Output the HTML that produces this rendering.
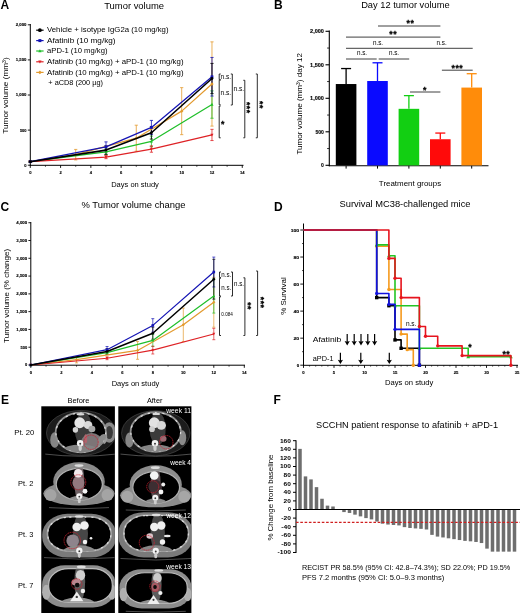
<!DOCTYPE html>
<html><head><meta charset="utf-8"><title>Figure</title>
<style>
html,body{margin:0;padding:0;background:#fff;}
body{width:520px;height:613px;overflow:hidden;}
svg{display:block;font-family:'Liberation Sans', 'DejaVu Sans', sans-serif;}
</style></head><body>
<svg width="520" height="613" viewBox="0 0 520 613">
<rect width="520" height="613" fill="#fff"/>
<g id="panelA">
<text x="0.50" y="9.30" font-size="12" text-anchor="start" font-weight="bold">A</text>
<text x="134.10" y="8.70" font-size="9" text-anchor="middle" textLength="59.80" lengthAdjust="spacingAndGlyphs">Tumor volume</text>
<line x1="30.30" y1="24.00" x2="30.30" y2="165.80" stroke="#000" stroke-width="1"/>
<line x1="29.80" y1="165.30" x2="243.50" y2="165.30" stroke="#000" stroke-width="1"/>
<line x1="27.80" y1="165.20" x2="30.30" y2="165.20" stroke="#000" stroke-width="0.9"/>
<text x="26.50" y="166.60" font-size="4" text-anchor="end" font-weight="bold" stroke="#000" stroke-width="0.12">0</text>
<line x1="27.80" y1="130.10" x2="30.30" y2="130.10" stroke="#000" stroke-width="0.9"/>
<text x="26.50" y="131.50" font-size="4" text-anchor="end" font-weight="bold" textLength="6.60" lengthAdjust="spacingAndGlyphs" stroke="#000" stroke-width="0.12">500</text>
<line x1="27.80" y1="95.00" x2="30.30" y2="95.00" stroke="#000" stroke-width="0.9"/>
<text x="26.50" y="96.40" font-size="4" text-anchor="end" font-weight="bold" textLength="10.70" lengthAdjust="spacingAndGlyphs" stroke="#000" stroke-width="0.12">1,000</text>
<line x1="27.80" y1="59.90" x2="30.30" y2="59.90" stroke="#000" stroke-width="0.9"/>
<text x="26.50" y="61.30" font-size="4" text-anchor="end" font-weight="bold" textLength="10.70" lengthAdjust="spacingAndGlyphs" stroke="#000" stroke-width="0.12">1,500</text>
<line x1="27.80" y1="24.80" x2="30.30" y2="24.80" stroke="#000" stroke-width="0.9"/>
<text x="26.50" y="26.20" font-size="4" text-anchor="end" font-weight="bold" textLength="10.70" lengthAdjust="spacingAndGlyphs" stroke="#000" stroke-width="0.12">2,000</text>
<line x1="30.30" y1="165.30" x2="30.30" y2="167.90" stroke="#000" stroke-width="0.9"/>
<text x="30.30" y="174.20" font-size="4.1" text-anchor="middle" font-weight="bold" stroke="#000" stroke-width="0.12">0</text>
<line x1="45.44" y1="165.30" x2="45.44" y2="166.80" stroke="#000" stroke-width="0.7"/>
<line x1="60.58" y1="165.30" x2="60.58" y2="167.90" stroke="#000" stroke-width="0.9"/>
<text x="60.58" y="174.20" font-size="4.1" text-anchor="middle" font-weight="bold" stroke="#000" stroke-width="0.12">2</text>
<line x1="75.72" y1="165.30" x2="75.72" y2="166.80" stroke="#000" stroke-width="0.7"/>
<line x1="90.86" y1="165.30" x2="90.86" y2="167.90" stroke="#000" stroke-width="0.9"/>
<text x="90.86" y="174.20" font-size="4.1" text-anchor="middle" font-weight="bold" stroke="#000" stroke-width="0.12">4</text>
<line x1="106.00" y1="165.30" x2="106.00" y2="166.80" stroke="#000" stroke-width="0.7"/>
<line x1="121.14" y1="165.30" x2="121.14" y2="167.90" stroke="#000" stroke-width="0.9"/>
<text x="121.14" y="174.20" font-size="4.1" text-anchor="middle" font-weight="bold" stroke="#000" stroke-width="0.12">6</text>
<line x1="136.28" y1="165.30" x2="136.28" y2="166.80" stroke="#000" stroke-width="0.7"/>
<line x1="151.42" y1="165.30" x2="151.42" y2="167.90" stroke="#000" stroke-width="0.9"/>
<text x="151.42" y="174.20" font-size="4.1" text-anchor="middle" font-weight="bold" stroke="#000" stroke-width="0.12">8</text>
<line x1="166.56" y1="165.30" x2="166.56" y2="166.80" stroke="#000" stroke-width="0.7"/>
<line x1="181.70" y1="165.30" x2="181.70" y2="167.90" stroke="#000" stroke-width="0.9"/>
<text x="181.70" y="174.20" font-size="4.1" text-anchor="middle" font-weight="bold" stroke="#000" stroke-width="0.12">10</text>
<line x1="196.84" y1="165.30" x2="196.84" y2="166.80" stroke="#000" stroke-width="0.7"/>
<line x1="211.98" y1="165.30" x2="211.98" y2="167.90" stroke="#000" stroke-width="0.9"/>
<text x="211.98" y="174.20" font-size="4.1" text-anchor="middle" font-weight="bold" stroke="#000" stroke-width="0.12">12</text>
<line x1="227.12" y1="165.30" x2="227.12" y2="166.80" stroke="#000" stroke-width="0.7"/>
<line x1="242.26" y1="165.30" x2="242.26" y2="167.90" stroke="#000" stroke-width="0.9"/>
<text x="242.26" y="174.20" font-size="4.1" text-anchor="middle" font-weight="bold" stroke="#000" stroke-width="0.12">14</text>
<text x="8.30" y="95.50" font-size="8" text-anchor="middle" transform="rotate(-90 8.30 95.50)" textLength="76.4" lengthAdjust="spacingAndGlyphs">Tumor volume (mm<tspan font-size="5" dy="-2.6">3</tspan><tspan dy="2.6">)</tspan></text>
<text x="135.00" y="186.50" font-size="7.6" text-anchor="middle" textLength="47.70" lengthAdjust="spacingAndGlyphs">Days on study</text>
<line x1="30.30" y1="161.13" x2="30.30" y2="162.25" stroke="#e39a2e" stroke-width="0.8"/>
<line x1="28.70" y1="161.13" x2="31.90" y2="161.13" stroke="#e39a2e" stroke-width="0.8"/>
<line x1="28.70" y1="162.25" x2="31.90" y2="162.25" stroke="#e39a2e" stroke-width="0.8"/>
<line x1="75.72" y1="149.41" x2="75.72" y2="159.94" stroke="#e39a2e" stroke-width="0.8"/>
<line x1="74.12" y1="149.41" x2="77.32" y2="149.41" stroke="#e39a2e" stroke-width="0.8"/>
<line x1="74.12" y1="159.94" x2="77.32" y2="159.94" stroke="#e39a2e" stroke-width="0.8"/>
<line x1="136.28" y1="125.19" x2="136.28" y2="151.16" stroke="#e39a2e" stroke-width="0.8"/>
<line x1="134.68" y1="125.19" x2="137.88" y2="125.19" stroke="#e39a2e" stroke-width="0.8"/>
<line x1="134.68" y1="151.16" x2="137.88" y2="151.16" stroke="#e39a2e" stroke-width="0.8"/>
<line x1="181.70" y1="87.63" x2="181.70" y2="134.66" stroke="#e39a2e" stroke-width="0.8"/>
<line x1="180.10" y1="87.63" x2="183.30" y2="87.63" stroke="#e39a2e" stroke-width="0.8"/>
<line x1="180.10" y1="134.66" x2="183.30" y2="134.66" stroke="#e39a2e" stroke-width="0.8"/>
<line x1="211.98" y1="41.86" x2="211.98" y2="126.10" stroke="#e39a2e" stroke-width="0.8"/>
<line x1="210.38" y1="41.86" x2="213.58" y2="41.86" stroke="#e39a2e" stroke-width="0.8"/>
<line x1="210.38" y1="126.10" x2="213.58" y2="126.10" stroke="#e39a2e" stroke-width="0.8"/>
<line x1="30.30" y1="161.13" x2="30.30" y2="162.25" stroke="#1fbf2a" stroke-width="0.8"/>
<line x1="28.70" y1="161.13" x2="31.90" y2="161.13" stroke="#1fbf2a" stroke-width="0.8"/>
<line x1="28.70" y1="162.25" x2="31.90" y2="162.25" stroke="#1fbf2a" stroke-width="0.8"/>
<line x1="106.00" y1="149.05" x2="106.00" y2="154.67" stroke="#1fbf2a" stroke-width="0.8"/>
<line x1="104.40" y1="149.05" x2="107.60" y2="149.05" stroke="#1fbf2a" stroke-width="0.8"/>
<line x1="104.40" y1="154.67" x2="107.60" y2="154.67" stroke="#1fbf2a" stroke-width="0.8"/>
<line x1="151.42" y1="136.07" x2="151.42" y2="146.60" stroke="#1fbf2a" stroke-width="0.8"/>
<line x1="149.82" y1="136.07" x2="153.02" y2="136.07" stroke="#1fbf2a" stroke-width="0.8"/>
<line x1="149.82" y1="146.60" x2="153.02" y2="146.60" stroke="#1fbf2a" stroke-width="0.8"/>
<line x1="211.98" y1="90.86" x2="211.98" y2="118.24" stroke="#1fbf2a" stroke-width="0.8"/>
<line x1="210.38" y1="90.86" x2="213.58" y2="90.86" stroke="#1fbf2a" stroke-width="0.8"/>
<line x1="210.38" y1="118.24" x2="213.58" y2="118.24" stroke="#1fbf2a" stroke-width="0.8"/>
<line x1="30.30" y1="161.13" x2="30.30" y2="162.25" stroke="#de2226" stroke-width="0.8"/>
<line x1="28.70" y1="161.13" x2="31.90" y2="161.13" stroke="#de2226" stroke-width="0.8"/>
<line x1="28.70" y1="162.25" x2="31.90" y2="162.25" stroke="#de2226" stroke-width="0.8"/>
<line x1="106.00" y1="155.58" x2="106.00" y2="158.67" stroke="#de2226" stroke-width="0.8"/>
<line x1="104.40" y1="155.58" x2="107.60" y2="155.58" stroke="#de2226" stroke-width="0.8"/>
<line x1="104.40" y1="158.67" x2="107.60" y2="158.67" stroke="#de2226" stroke-width="0.8"/>
<line x1="151.42" y1="145.89" x2="151.42" y2="152.21" stroke="#de2226" stroke-width="0.8"/>
<line x1="149.82" y1="145.89" x2="153.02" y2="145.89" stroke="#de2226" stroke-width="0.8"/>
<line x1="149.82" y1="152.21" x2="153.02" y2="152.21" stroke="#de2226" stroke-width="0.8"/>
<line x1="211.98" y1="129.33" x2="211.98" y2="140.56" stroke="#de2226" stroke-width="0.8"/>
<line x1="210.38" y1="129.33" x2="213.58" y2="129.33" stroke="#de2226" stroke-width="0.8"/>
<line x1="210.38" y1="140.56" x2="213.58" y2="140.56" stroke="#de2226" stroke-width="0.8"/>
<line x1="30.30" y1="161.13" x2="30.30" y2="162.25" stroke="#1414b4" stroke-width="0.8"/>
<line x1="28.70" y1="161.13" x2="31.90" y2="161.13" stroke="#1414b4" stroke-width="0.8"/>
<line x1="28.70" y1="162.25" x2="31.90" y2="162.25" stroke="#1414b4" stroke-width="0.8"/>
<line x1="106.00" y1="141.89" x2="106.00" y2="151.72" stroke="#1414b4" stroke-width="0.8"/>
<line x1="104.40" y1="141.89" x2="107.60" y2="141.89" stroke="#1414b4" stroke-width="0.8"/>
<line x1="104.40" y1="151.72" x2="107.60" y2="151.72" stroke="#1414b4" stroke-width="0.8"/>
<line x1="151.42" y1="120.41" x2="151.42" y2="134.45" stroke="#1414b4" stroke-width="0.8"/>
<line x1="149.82" y1="120.41" x2="153.02" y2="120.41" stroke="#1414b4" stroke-width="0.8"/>
<line x1="149.82" y1="134.45" x2="153.02" y2="134.45" stroke="#1414b4" stroke-width="0.8"/>
<line x1="211.98" y1="57.44" x2="211.98" y2="96.05" stroke="#1414b4" stroke-width="0.8"/>
<line x1="210.38" y1="57.44" x2="213.58" y2="57.44" stroke="#1414b4" stroke-width="0.8"/>
<line x1="210.38" y1="96.05" x2="213.58" y2="96.05" stroke="#1414b4" stroke-width="0.8"/>
<line x1="30.30" y1="161.13" x2="30.30" y2="162.25" stroke="#000000" stroke-width="0.8"/>
<line x1="28.70" y1="161.13" x2="31.90" y2="161.13" stroke="#000000" stroke-width="0.8"/>
<line x1="28.70" y1="162.25" x2="31.90" y2="162.25" stroke="#000000" stroke-width="0.8"/>
<line x1="106.00" y1="145.89" x2="106.00" y2="154.32" stroke="#000000" stroke-width="0.8"/>
<line x1="104.40" y1="145.89" x2="107.60" y2="145.89" stroke="#000000" stroke-width="0.8"/>
<line x1="104.40" y1="154.32" x2="107.60" y2="154.32" stroke="#000000" stroke-width="0.8"/>
<line x1="151.42" y1="126.45" x2="151.42" y2="139.09" stroke="#000000" stroke-width="0.8"/>
<line x1="149.82" y1="126.45" x2="153.02" y2="126.45" stroke="#000000" stroke-width="0.8"/>
<line x1="149.82" y1="139.09" x2="153.02" y2="139.09" stroke="#000000" stroke-width="0.8"/>
<line x1="211.98" y1="63.41" x2="211.98" y2="93.60" stroke="#000000" stroke-width="0.8"/>
<line x1="210.38" y1="63.41" x2="213.58" y2="63.41" stroke="#000000" stroke-width="0.8"/>
<line x1="210.38" y1="93.60" x2="213.58" y2="93.60" stroke="#000000" stroke-width="0.8"/>
<polyline points="30.30,161.69 75.72,154.67 136.28,138.17 181.70,111.15 211.98,83.98" fill="none" stroke="#e39a2e" stroke-width="1.25" stroke-linejoin="round"/>
<polygon points="30.30,160.01 28.62,161.69 30.30,163.37 31.98,161.69" fill="#e39a2e"/>
<polygon points="75.72,152.99 74.04,154.67 75.72,156.35 77.40,154.67" fill="#e39a2e"/>
<polygon points="136.28,136.49 134.60,138.17 136.28,139.85 137.96,138.17" fill="#e39a2e"/>
<polygon points="181.70,109.47 180.02,111.15 181.70,112.83 183.38,111.15" fill="#e39a2e"/>
<polygon points="211.98,82.30 210.30,83.98 211.98,85.66 213.66,83.98" fill="#e39a2e"/>
<polyline points="30.30,161.69 106.00,151.86 151.42,141.33 211.98,104.55" fill="none" stroke="#1fbf2a" stroke-width="1.25" stroke-linejoin="round"/>
<polygon points="30.30,160.01 28.76,162.95 31.84,162.95" fill="#1fbf2a"/>
<polygon points="106.00,150.18 104.46,153.12 107.54,153.12" fill="#1fbf2a"/>
<polygon points="151.42,139.65 149.88,142.59 152.96,142.59" fill="#1fbf2a"/>
<polygon points="211.98,102.87 210.44,105.81 213.52,105.81" fill="#1fbf2a"/>
<polyline points="30.30,161.69 106.00,157.13 151.42,149.05 211.98,134.94" fill="none" stroke="#de2226" stroke-width="1.25" stroke-linejoin="round"/>
<polygon points="30.30,163.37 28.76,160.43 31.84,160.43" fill="#de2226"/>
<polygon points="106.00,158.81 104.46,155.87 107.54,155.87" fill="#de2226"/>
<polygon points="151.42,150.73 149.88,147.79 152.96,147.79" fill="#de2226"/>
<polygon points="211.98,136.62 210.44,133.68 213.52,133.68" fill="#de2226"/>
<polyline points="30.30,161.69 106.00,146.81 151.42,127.43 211.98,76.75" fill="none" stroke="#1414b4" stroke-width="1.25" stroke-linejoin="round"/>
<rect x="28.90" y="160.29" width="2.80" height="2.80" fill="#1414b4"/>
<rect x="104.60" y="145.41" width="2.80" height="2.80" fill="#1414b4"/>
<rect x="150.02" y="126.03" width="2.80" height="2.80" fill="#1414b4"/>
<rect x="210.58" y="75.35" width="2.80" height="2.80" fill="#1414b4"/>
<polyline points="30.30,161.69 106.00,150.11 151.42,132.77 211.98,78.50" fill="none" stroke="#000000" stroke-width="1.6" stroke-linejoin="round"/>
<circle cx="30.30" cy="161.69" r="1.4" fill="#000000"/>
<circle cx="106.00" cy="150.11" r="1.4" fill="#000000"/>
<circle cx="151.42" cy="132.77" r="1.4" fill="#000000"/>
<circle cx="211.98" cy="78.50" r="1.4" fill="#000000"/>
<line x1="36.20" y1="30.20" x2="43.60" y2="30.20" stroke="#000000" stroke-width="1.2"/>
<circle cx="39.90" cy="30.20" r="1.9" fill="#000000"/>
<text x="47.00" y="32.30" font-size="7.4" text-anchor="start" textLength="121.50" lengthAdjust="spacingAndGlyphs">Vehicle + isotype IgG2a (10 mg/kg)</text>
<line x1="36.20" y1="40.60" x2="43.60" y2="40.60" stroke="#1414b4" stroke-width="1.2"/>
<rect x="38.40" y="39.10" width="3.00" height="3.00" fill="#1414b4"/>
<text x="47.00" y="42.70" font-size="7.4" text-anchor="start" textLength="68.50" lengthAdjust="spacingAndGlyphs">Afatinib (10 mg/kg)</text>
<line x1="36.20" y1="51.00" x2="43.60" y2="51.00" stroke="#1fbf2a" stroke-width="1.2"/>
<polygon points="39.90,49.20 38.25,52.35 41.55,52.35" fill="#1fbf2a"/>
<text x="47.00" y="53.10" font-size="7.4" text-anchor="start" textLength="60.50" lengthAdjust="spacingAndGlyphs">aPD-1 (10 mg/kg)</text>
<line x1="36.20" y1="61.80" x2="43.60" y2="61.80" stroke="#de2226" stroke-width="1.2"/>
<polygon points="39.90,63.60 38.25,60.45 41.55,60.45" fill="#de2226"/>
<text x="47.00" y="63.90" font-size="7.4" text-anchor="start" textLength="136.50" lengthAdjust="spacingAndGlyphs">Afatinib (10 mg/kg) + aPD-1 (10 mg/kg)</text>
<line x1="36.20" y1="72.40" x2="43.60" y2="72.40" stroke="#e39a2e" stroke-width="1.2"/>
<polygon points="39.90,70.60 38.10,72.40 39.90,74.20 41.70,72.40" fill="#e39a2e"/>
<text x="47.00" y="74.50" font-size="7.4" text-anchor="start" textLength="136.50" lengthAdjust="spacingAndGlyphs">Afatinib (10 mg/kg) + aPD-1 (10 mg/kg)</text>
<text x="48.30" y="84.80" font-size="7.4" text-anchor="start" textLength="54.70" lengthAdjust="spacingAndGlyphs">+ aCD8 (200 µg)</text>
<polyline points="220.70,74.00 219.20,74.00 219.20,79.60 220.70,79.60" fill="none" stroke="#161616" stroke-width="0.9" stroke-linejoin="round"/>
<polyline points="220.70,80.20 219.20,80.20 219.20,104.80 220.70,104.80" fill="none" stroke="#161616" stroke-width="0.9" stroke-linejoin="round"/>
<polyline points="220.70,106.00 219.20,106.00 219.20,137.80 220.70,137.80" fill="none" stroke="#161616" stroke-width="0.9" stroke-linejoin="round"/>
<polyline points="230.80,74.00 232.30,74.00 232.30,105.00 230.80,105.00" fill="none" stroke="#161616" stroke-width="0.9" stroke-linejoin="round"/>
<polyline points="243.30,80.30 244.80,80.30 244.80,137.80 243.30,137.80" fill="none" stroke="#161616" stroke-width="0.9" stroke-linejoin="round"/>
<polyline points="255.80,74.00 257.30,74.00 257.30,137.80 255.80,137.80" fill="none" stroke="#161616" stroke-width="0.9" stroke-linejoin="round"/>
<text x="220.60" y="78.60" font-size="6.8" text-anchor="start" textLength="10.60" lengthAdjust="spacingAndGlyphs">n.s.</text>
<text x="220.60" y="95.20" font-size="6.8" text-anchor="start" textLength="10.60" lengthAdjust="spacingAndGlyphs">n.s.</text>
<text x="233.60" y="90.50" font-size="6.8" text-anchor="start" textLength="10.60" lengthAdjust="spacingAndGlyphs">n.s.</text>
<text x="222.90" y="127.00" font-size="8.7" text-anchor="middle" font-weight="bold" stroke="#000" stroke-width="0.3" stroke-linejoin="round" letter-spacing="0.5">*</text>
<text x="243.90" y="107.80" font-size="8.7" text-anchor="middle" font-weight="bold" transform="rotate(90 243.90 107.80)" stroke="#000" stroke-width="0.3" stroke-linejoin="round" letter-spacing="0.5">***</text>
<text x="257.10" y="105.00" font-size="8.7" text-anchor="middle" font-weight="bold" transform="rotate(90 257.10 105.00)" stroke="#000" stroke-width="0.3" stroke-linejoin="round" letter-spacing="0.5">**</text>
</g>
<g id="panelB">
<text x="274.00" y="9.30" font-size="12" text-anchor="start" font-weight="bold">B</text>
<text x="405.40" y="8.30" font-size="8.8" text-anchor="middle" textLength="88.50" lengthAdjust="spacingAndGlyphs">Day 12 tumor volume</text>
<line x1="329.30" y1="30.50" x2="329.30" y2="166.30" stroke="#000" stroke-width="1.1"/>
<line x1="328.80" y1="165.80" x2="488.50" y2="165.80" stroke="#000" stroke-width="1.1"/>
<line x1="325.50" y1="165.30" x2="329.30" y2="165.30" stroke="#000" stroke-width="1.1"/>
<text x="323.90" y="167.10" font-size="5" text-anchor="end" font-weight="bold" stroke="#000" stroke-width="0.12">0</text>
<line x1="325.50" y1="131.80" x2="329.30" y2="131.80" stroke="#000" stroke-width="1.1"/>
<text x="323.90" y="133.60" font-size="5" text-anchor="end" font-weight="bold" textLength="8.40" lengthAdjust="spacingAndGlyphs" stroke="#000" stroke-width="0.12">500</text>
<line x1="325.50" y1="98.30" x2="329.30" y2="98.30" stroke="#000" stroke-width="1.1"/>
<text x="323.90" y="100.10" font-size="5" text-anchor="end" font-weight="bold" textLength="13.80" lengthAdjust="spacingAndGlyphs" stroke="#000" stroke-width="0.12">1,000</text>
<line x1="325.50" y1="64.80" x2="329.30" y2="64.80" stroke="#000" stroke-width="1.1"/>
<text x="323.90" y="66.60" font-size="5" text-anchor="end" font-weight="bold" textLength="13.80" lengthAdjust="spacingAndGlyphs" stroke="#000" stroke-width="0.12">1,500</text>
<line x1="325.50" y1="31.30" x2="329.30" y2="31.30" stroke="#000" stroke-width="1.1"/>
<text x="323.90" y="33.10" font-size="5" text-anchor="end" font-weight="bold" textLength="13.80" lengthAdjust="spacingAndGlyphs" stroke="#000" stroke-width="0.12">2,000</text>
<line x1="327.10" y1="148.55" x2="329.30" y2="148.55" stroke="#000" stroke-width="0.8"/>
<line x1="327.10" y1="115.05" x2="329.30" y2="115.05" stroke="#000" stroke-width="0.8"/>
<line x1="327.10" y1="81.55" x2="329.30" y2="81.55" stroke="#000" stroke-width="0.8"/>
<line x1="327.10" y1="48.05" x2="329.30" y2="48.05" stroke="#000" stroke-width="0.8"/>
<rect x="335.80" y="84.03" width="20.60" height="81.37" fill="#000000"/>
<line x1="346.10" y1="84.03" x2="346.10" y2="68.55" stroke="#000000" stroke-width="1.3"/>
<line x1="341.10" y1="68.55" x2="351.10" y2="68.55" stroke="#000000" stroke-width="1.3"/>
<line x1="346.10" y1="165.80" x2="346.10" y2="168.60" stroke="#000" stroke-width="1"/>
<rect x="367.20" y="81.01" width="20.60" height="84.39" fill="#0a0aff"/>
<line x1="377.50" y1="81.01" x2="377.50" y2="62.79" stroke="#0a0aff" stroke-width="1.3"/>
<line x1="372.50" y1="62.79" x2="382.50" y2="62.79" stroke="#0a0aff" stroke-width="1.3"/>
<line x1="377.50" y1="165.80" x2="377.50" y2="168.60" stroke="#000" stroke-width="1"/>
<rect x="398.60" y="108.82" width="20.60" height="56.58" fill="#12cf12"/>
<line x1="408.90" y1="108.82" x2="408.90" y2="95.62" stroke="#12cf12" stroke-width="1.3"/>
<line x1="403.90" y1="95.62" x2="413.90" y2="95.62" stroke="#12cf12" stroke-width="1.3"/>
<line x1="408.90" y1="165.80" x2="408.90" y2="168.60" stroke="#000" stroke-width="1"/>
<rect x="430.00" y="139.24" width="20.60" height="26.16" fill="#ff0a0a"/>
<line x1="440.30" y1="139.24" x2="440.30" y2="133.07" stroke="#ff0a0a" stroke-width="1.3"/>
<line x1="435.30" y1="133.07" x2="445.30" y2="133.07" stroke="#ff0a0a" stroke-width="1.3"/>
<line x1="440.30" y1="165.80" x2="440.30" y2="168.60" stroke="#000" stroke-width="1"/>
<rect x="461.40" y="87.58" width="20.60" height="77.82" fill="#ff8c0a"/>
<line x1="471.70" y1="87.58" x2="471.70" y2="73.71" stroke="#ff8c0a" stroke-width="1.3"/>
<line x1="466.70" y1="73.71" x2="476.70" y2="73.71" stroke="#ff8c0a" stroke-width="1.3"/>
<line x1="471.70" y1="165.80" x2="471.70" y2="168.60" stroke="#000" stroke-width="1"/>
<text x="410.00" y="186.00" font-size="7.4" text-anchor="middle" textLength="62.30" lengthAdjust="spacingAndGlyphs">Treatment groups</text>
<text x="302.40" y="103.80" font-size="7.6" text-anchor="middle" transform="rotate(-90 302.40 103.80)" textLength="101.5" lengthAdjust="spacingAndGlyphs">Tumor volume (mm<tspan font-size="4.6" dy="-2.4">3</tspan><tspan dy="2.4">) day 12</tspan></text>
<line x1="346.00" y1="59.00" x2="376.70" y2="59.00" stroke="#2a2a2a" stroke-width="0.9"/>
<line x1="378.70" y1="59.00" x2="409.20" y2="59.00" stroke="#2a2a2a" stroke-width="0.9"/>
<line x1="346.00" y1="48.30" x2="472.70" y2="48.30" stroke="#2a2a2a" stroke-width="0.9"/>
<line x1="346.00" y1="37.10" x2="440.40" y2="37.10" stroke="#2a2a2a" stroke-width="0.9"/>
<line x1="378.00" y1="26.00" x2="440.40" y2="26.00" stroke="#2a2a2a" stroke-width="0.9"/>
<line x1="441.90" y1="70.20" x2="472.70" y2="70.20" stroke="#2a2a2a" stroke-width="0.9"/>
<line x1="410.00" y1="92.00" x2="440.40" y2="92.00" stroke="#2a2a2a" stroke-width="0.9"/>
<text x="362.00" y="55.40" font-size="6.8" text-anchor="middle" textLength="10.20" lengthAdjust="spacingAndGlyphs">n.s.</text>
<text x="394.00" y="55.40" font-size="6.8" text-anchor="middle" textLength="10.20" lengthAdjust="spacingAndGlyphs">n.s.</text>
<text x="378.00" y="45.20" font-size="6.8" text-anchor="middle" textLength="10.20" lengthAdjust="spacingAndGlyphs">n.s.</text>
<text x="441.60" y="45.40" font-size="6.8" text-anchor="middle" textLength="10.20" lengthAdjust="spacingAndGlyphs">n.s.</text>
<text x="393.20" y="36.90" font-size="8.7" text-anchor="middle" font-weight="bold" stroke="#000" stroke-width="0.3" stroke-linejoin="round" letter-spacing="0.5">**</text>
<text x="410.40" y="25.70" font-size="8.7" text-anchor="middle" font-weight="bold" stroke="#000" stroke-width="0.3" stroke-linejoin="round" letter-spacing="0.5">**</text>
<text x="457.40" y="70.60" font-size="8.7" text-anchor="middle" font-weight="bold" stroke="#000" stroke-width="0.3" stroke-linejoin="round" letter-spacing="0.5">***</text>
<text x="425.00" y="93.00" font-size="8.7" text-anchor="middle" font-weight="bold" stroke="#000" stroke-width="0.3" stroke-linejoin="round" letter-spacing="0.5">*</text>
</g>
<g id="panelC">
<text x="0.50" y="211.00" font-size="12" text-anchor="start" font-weight="bold">C</text>
<text x="133.50" y="208.00" font-size="8.6" text-anchor="middle" textLength="104.00" lengthAdjust="spacingAndGlyphs">% Tumor volume change</text>
<line x1="30.80" y1="222.00" x2="30.80" y2="365.70" stroke="#000" stroke-width="1"/>
<line x1="30.30" y1="365.20" x2="245.00" y2="365.20" stroke="#000" stroke-width="1"/>
<line x1="28.40" y1="365.00" x2="30.80" y2="365.00" stroke="#000" stroke-width="0.9"/>
<text x="27.20" y="366.40" font-size="4" text-anchor="end" font-weight="bold" stroke="#000" stroke-width="0.12">0</text>
<line x1="28.40" y1="347.21" x2="30.80" y2="347.21" stroke="#000" stroke-width="0.9"/>
<text x="27.20" y="348.61" font-size="4" text-anchor="end" font-weight="bold" textLength="6.70" lengthAdjust="spacingAndGlyphs" stroke="#000" stroke-width="0.12">500</text>
<line x1="28.40" y1="329.43" x2="30.80" y2="329.43" stroke="#000" stroke-width="0.9"/>
<text x="27.20" y="330.83" font-size="4" text-anchor="end" font-weight="bold" textLength="10.90" lengthAdjust="spacingAndGlyphs" stroke="#000" stroke-width="0.12">1,000</text>
<line x1="28.40" y1="311.64" x2="30.80" y2="311.64" stroke="#000" stroke-width="0.9"/>
<text x="27.20" y="313.04" font-size="4" text-anchor="end" font-weight="bold" textLength="10.90" lengthAdjust="spacingAndGlyphs" stroke="#000" stroke-width="0.12">1,500</text>
<line x1="28.40" y1="293.86" x2="30.80" y2="293.86" stroke="#000" stroke-width="0.9"/>
<text x="27.20" y="295.26" font-size="4" text-anchor="end" font-weight="bold" textLength="10.90" lengthAdjust="spacingAndGlyphs" stroke="#000" stroke-width="0.12">2,000</text>
<line x1="28.40" y1="276.07" x2="30.80" y2="276.07" stroke="#000" stroke-width="0.9"/>
<text x="27.20" y="277.47" font-size="4" text-anchor="end" font-weight="bold" textLength="10.90" lengthAdjust="spacingAndGlyphs" stroke="#000" stroke-width="0.12">2,500</text>
<line x1="28.40" y1="258.29" x2="30.80" y2="258.29" stroke="#000" stroke-width="0.9"/>
<text x="27.20" y="259.69" font-size="4" text-anchor="end" font-weight="bold" textLength="10.90" lengthAdjust="spacingAndGlyphs" stroke="#000" stroke-width="0.12">3,000</text>
<line x1="28.40" y1="240.50" x2="30.80" y2="240.50" stroke="#000" stroke-width="0.9"/>
<text x="27.20" y="241.91" font-size="4" text-anchor="end" font-weight="bold" textLength="10.90" lengthAdjust="spacingAndGlyphs" stroke="#000" stroke-width="0.12">3,500</text>
<line x1="28.40" y1="222.72" x2="30.80" y2="222.72" stroke="#000" stroke-width="0.9"/>
<text x="27.20" y="224.12" font-size="4" text-anchor="end" font-weight="bold" textLength="10.90" lengthAdjust="spacingAndGlyphs" stroke="#000" stroke-width="0.12">4,000</text>
<line x1="30.80" y1="365.20" x2="30.80" y2="367.80" stroke="#000" stroke-width="0.9"/>
<text x="30.80" y="373.90" font-size="4.1" text-anchor="middle" font-weight="bold" stroke="#000" stroke-width="0.12">0</text>
<line x1="46.05" y1="365.20" x2="46.05" y2="366.70" stroke="#000" stroke-width="0.7"/>
<line x1="61.30" y1="365.20" x2="61.30" y2="367.80" stroke="#000" stroke-width="0.9"/>
<text x="61.30" y="373.90" font-size="4.1" text-anchor="middle" font-weight="bold" stroke="#000" stroke-width="0.12">2</text>
<line x1="76.55" y1="365.20" x2="76.55" y2="366.70" stroke="#000" stroke-width="0.7"/>
<line x1="91.80" y1="365.20" x2="91.80" y2="367.80" stroke="#000" stroke-width="0.9"/>
<text x="91.80" y="373.90" font-size="4.1" text-anchor="middle" font-weight="bold" stroke="#000" stroke-width="0.12">4</text>
<line x1="107.05" y1="365.20" x2="107.05" y2="366.70" stroke="#000" stroke-width="0.7"/>
<line x1="122.30" y1="365.20" x2="122.30" y2="367.80" stroke="#000" stroke-width="0.9"/>
<text x="122.30" y="373.90" font-size="4.1" text-anchor="middle" font-weight="bold" stroke="#000" stroke-width="0.12">6</text>
<line x1="137.55" y1="365.20" x2="137.55" y2="366.70" stroke="#000" stroke-width="0.7"/>
<line x1="152.80" y1="365.20" x2="152.80" y2="367.80" stroke="#000" stroke-width="0.9"/>
<text x="152.80" y="373.90" font-size="4.1" text-anchor="middle" font-weight="bold" stroke="#000" stroke-width="0.12">8</text>
<line x1="168.05" y1="365.20" x2="168.05" y2="366.70" stroke="#000" stroke-width="0.7"/>
<line x1="183.30" y1="365.20" x2="183.30" y2="367.80" stroke="#000" stroke-width="0.9"/>
<text x="183.30" y="373.90" font-size="4.1" text-anchor="middle" font-weight="bold" stroke="#000" stroke-width="0.12">10</text>
<line x1="198.55" y1="365.20" x2="198.55" y2="366.70" stroke="#000" stroke-width="0.7"/>
<line x1="213.80" y1="365.20" x2="213.80" y2="367.80" stroke="#000" stroke-width="0.9"/>
<text x="213.80" y="373.90" font-size="4.1" text-anchor="middle" font-weight="bold" stroke="#000" stroke-width="0.12">12</text>
<line x1="229.05" y1="365.20" x2="229.05" y2="366.70" stroke="#000" stroke-width="0.7"/>
<line x1="244.30" y1="365.20" x2="244.30" y2="367.80" stroke="#000" stroke-width="0.9"/>
<text x="244.30" y="373.90" font-size="4.1" text-anchor="middle" font-weight="bold" stroke="#000" stroke-width="0.12">14</text>
<text x="9.20" y="295.90" font-size="7.4" text-anchor="middle" transform="rotate(-90 9.20 295.90)" textLength="94" lengthAdjust="spacingAndGlyphs">Tumor volume (% change)</text>
<text x="135.50" y="385.80" font-size="7.6" text-anchor="middle" textLength="47.70" lengthAdjust="spacingAndGlyphs">Days on study</text>
<line x1="76.55" y1="356.46" x2="76.55" y2="362.87" stroke="#e39a2e" stroke-width="0.7"/>
<line x1="75.05" y1="356.46" x2="78.05" y2="356.46" stroke="#e39a2e" stroke-width="0.7"/>
<line x1="75.05" y1="362.87" x2="78.05" y2="362.87" stroke="#e39a2e" stroke-width="0.7"/>
<line x1="137.55" y1="341.52" x2="137.55" y2="359.31" stroke="#e39a2e" stroke-width="0.7"/>
<line x1="136.05" y1="341.52" x2="139.05" y2="341.52" stroke="#e39a2e" stroke-width="0.7"/>
<line x1="136.05" y1="359.31" x2="139.05" y2="359.31" stroke="#e39a2e" stroke-width="0.7"/>
<line x1="183.30" y1="308.09" x2="183.30" y2="341.52" stroke="#e39a2e" stroke-width="0.7"/>
<line x1="181.80" y1="308.09" x2="184.80" y2="308.09" stroke="#e39a2e" stroke-width="0.7"/>
<line x1="181.80" y1="341.52" x2="184.80" y2="341.52" stroke="#e39a2e" stroke-width="0.7"/>
<line x1="213.80" y1="277.39" x2="213.80" y2="327.19" stroke="#e39a2e" stroke-width="0.7"/>
<line x1="212.30" y1="277.39" x2="215.30" y2="277.39" stroke="#e39a2e" stroke-width="0.7"/>
<line x1="212.30" y1="327.19" x2="215.30" y2="327.19" stroke="#e39a2e" stroke-width="0.7"/>
<line x1="107.05" y1="350.42" x2="107.05" y2="354.68" stroke="#1fbf2a" stroke-width="0.7"/>
<line x1="105.55" y1="350.42" x2="108.55" y2="350.42" stroke="#1fbf2a" stroke-width="0.7"/>
<line x1="105.55" y1="354.68" x2="108.55" y2="354.68" stroke="#1fbf2a" stroke-width="0.7"/>
<line x1="152.80" y1="334.34" x2="152.80" y2="346.43" stroke="#1fbf2a" stroke-width="0.7"/>
<line x1="151.30" y1="334.34" x2="154.30" y2="334.34" stroke="#1fbf2a" stroke-width="0.7"/>
<line x1="151.30" y1="346.43" x2="154.30" y2="346.43" stroke="#1fbf2a" stroke-width="0.7"/>
<line x1="213.80" y1="278.92" x2="213.80" y2="313.07" stroke="#1fbf2a" stroke-width="0.7"/>
<line x1="212.30" y1="278.92" x2="215.30" y2="278.92" stroke="#1fbf2a" stroke-width="0.7"/>
<line x1="212.30" y1="313.07" x2="215.30" y2="313.07" stroke="#1fbf2a" stroke-width="0.7"/>
<line x1="107.05" y1="356.82" x2="107.05" y2="359.66" stroke="#de2226" stroke-width="0.7"/>
<line x1="105.55" y1="356.82" x2="108.55" y2="356.82" stroke="#de2226" stroke-width="0.7"/>
<line x1="105.55" y1="359.66" x2="108.55" y2="359.66" stroke="#de2226" stroke-width="0.7"/>
<line x1="152.80" y1="346.15" x2="152.80" y2="353.97" stroke="#de2226" stroke-width="0.7"/>
<line x1="151.30" y1="346.15" x2="154.30" y2="346.15" stroke="#de2226" stroke-width="0.7"/>
<line x1="151.30" y1="353.97" x2="154.30" y2="353.97" stroke="#de2226" stroke-width="0.7"/>
<line x1="213.80" y1="328.33" x2="213.80" y2="339.71" stroke="#de2226" stroke-width="0.7"/>
<line x1="212.30" y1="328.33" x2="215.30" y2="328.33" stroke="#de2226" stroke-width="0.7"/>
<line x1="212.30" y1="339.71" x2="215.30" y2="339.71" stroke="#de2226" stroke-width="0.7"/>
<line x1="107.05" y1="346.50" x2="107.05" y2="352.91" stroke="#1414b4" stroke-width="0.7"/>
<line x1="105.55" y1="346.50" x2="108.55" y2="346.50" stroke="#1414b4" stroke-width="0.7"/>
<line x1="105.55" y1="352.91" x2="108.55" y2="352.91" stroke="#1414b4" stroke-width="0.7"/>
<line x1="152.80" y1="318.65" x2="152.80" y2="332.17" stroke="#1414b4" stroke-width="0.7"/>
<line x1="151.30" y1="318.65" x2="154.30" y2="318.65" stroke="#1414b4" stroke-width="0.7"/>
<line x1="151.30" y1="332.17" x2="154.30" y2="332.17" stroke="#1414b4" stroke-width="0.7"/>
<line x1="213.80" y1="257.08" x2="213.80" y2="286.96" stroke="#1414b4" stroke-width="0.7"/>
<line x1="212.30" y1="257.08" x2="215.30" y2="257.08" stroke="#1414b4" stroke-width="0.7"/>
<line x1="212.30" y1="286.96" x2="215.30" y2="286.96" stroke="#1414b4" stroke-width="0.7"/>
<line x1="107.05" y1="348.64" x2="107.05" y2="354.33" stroke="#000000" stroke-width="0.7"/>
<line x1="105.55" y1="348.64" x2="108.55" y2="348.64" stroke="#000000" stroke-width="0.7"/>
<line x1="105.55" y1="354.33" x2="108.55" y2="354.33" stroke="#000000" stroke-width="0.7"/>
<line x1="152.80" y1="327.15" x2="152.80" y2="339.25" stroke="#000000" stroke-width="0.7"/>
<line x1="151.30" y1="327.15" x2="154.30" y2="327.15" stroke="#000000" stroke-width="0.7"/>
<line x1="151.30" y1="339.25" x2="154.30" y2="339.25" stroke="#000000" stroke-width="0.7"/>
<line x1="213.80" y1="259.29" x2="213.80" y2="299.12" stroke="#000000" stroke-width="0.7"/>
<line x1="212.30" y1="259.29" x2="215.30" y2="259.29" stroke="#000000" stroke-width="0.7"/>
<line x1="212.30" y1="299.12" x2="215.30" y2="299.12" stroke="#000000" stroke-width="0.7"/>
<polyline points="30.80,365.00 76.55,359.66 137.55,350.42 183.30,324.81 213.80,302.29" fill="none" stroke="#e39a2e" stroke-width="1.2" stroke-linejoin="round"/>
<polygon points="30.80,363.44 29.24,365.00 30.80,366.56 32.36,365.00" fill="#e39a2e"/>
<polygon points="76.55,358.10 74.99,359.66 76.55,361.22 78.11,359.66" fill="#e39a2e"/>
<polygon points="137.55,348.86 135.99,350.42 137.55,351.98 139.11,350.42" fill="#e39a2e"/>
<polygon points="183.30,323.25 181.74,324.81 183.30,326.37 184.86,324.81" fill="#e39a2e"/>
<polygon points="213.80,300.73 212.24,302.29 213.80,303.85 215.36,302.29" fill="#e39a2e"/>
<polyline points="30.80,365.00 107.05,352.55 152.80,340.39 213.80,295.99" fill="none" stroke="#1fbf2a" stroke-width="1.2" stroke-linejoin="round"/>
<polygon points="30.80,363.44 29.37,366.17 32.23,366.17" fill="#1fbf2a"/>
<polygon points="107.05,350.99 105.62,353.72 108.48,353.72" fill="#1fbf2a"/>
<polygon points="152.80,338.83 151.37,341.56 154.23,341.56" fill="#1fbf2a"/>
<polygon points="213.80,294.43 212.37,297.16 215.23,297.16" fill="#1fbf2a"/>
<polyline points="30.80,365.00 107.05,358.24 152.80,350.06 213.80,334.02" fill="none" stroke="#de2226" stroke-width="1.2" stroke-linejoin="round"/>
<polygon points="30.80,366.56 29.37,363.83 32.23,363.83" fill="#de2226"/>
<polygon points="107.05,359.80 105.62,357.07 108.48,357.07" fill="#de2226"/>
<polygon points="152.80,351.62 151.37,348.89 154.23,348.89" fill="#de2226"/>
<polygon points="213.80,335.58 212.37,332.85 215.23,332.85" fill="#de2226"/>
<polyline points="30.80,365.00 107.05,349.70 152.80,325.41 213.80,272.02" fill="none" stroke="#1414b4" stroke-width="1.2" stroke-linejoin="round"/>
<rect x="29.50" y="363.70" width="2.60" height="2.60" fill="#1414b4"/>
<rect x="105.75" y="348.40" width="2.60" height="2.60" fill="#1414b4"/>
<rect x="151.50" y="324.11" width="2.60" height="2.60" fill="#1414b4"/>
<rect x="212.50" y="270.72" width="2.60" height="2.60" fill="#1414b4"/>
<polyline points="30.80,365.00 107.05,351.48 152.80,333.20 213.80,279.21" fill="none" stroke="#000000" stroke-width="1.5" stroke-linejoin="round"/>
<circle cx="30.80" cy="365.00" r="1.3" fill="#000000"/>
<circle cx="107.05" cy="351.48" r="1.3" fill="#000000"/>
<circle cx="152.80" cy="333.20" r="1.3" fill="#000000"/>
<circle cx="213.80" cy="279.21" r="1.3" fill="#000000"/>
<polyline points="221.00,272.00 219.50,272.00 219.50,277.60 221.00,277.60" fill="none" stroke="#161616" stroke-width="0.9" stroke-linejoin="round"/>
<polyline points="221.00,278.20 219.50,278.20 219.50,296.00 221.00,296.00" fill="none" stroke="#161616" stroke-width="0.9" stroke-linejoin="round"/>
<polyline points="221.00,296.80 219.50,296.80 219.50,335.50 221.00,335.50" fill="none" stroke="#161616" stroke-width="0.9" stroke-linejoin="round"/>
<polyline points="231.00,272.00 232.50,272.00 232.50,296.00 231.00,296.00" fill="none" stroke="#161616" stroke-width="0.9" stroke-linejoin="round"/>
<polyline points="243.40,277.80 244.90,277.80 244.90,335.50 243.40,335.50" fill="none" stroke="#161616" stroke-width="0.9" stroke-linejoin="round"/>
<polyline points="256.10,271.00 257.60,271.00 257.60,335.50 256.10,335.50" fill="none" stroke="#161616" stroke-width="0.9" stroke-linejoin="round"/>
<text x="221.30" y="277.00" font-size="6.6" text-anchor="start" textLength="10.00" lengthAdjust="spacingAndGlyphs">n.s.</text>
<text x="221.30" y="290.00" font-size="6.6" text-anchor="start" textLength="10.00" lengthAdjust="spacingAndGlyphs">n.s.</text>
<text x="234.00" y="285.50" font-size="6.6" text-anchor="start" textLength="10.00" lengthAdjust="spacingAndGlyphs">n.s.</text>
<text x="221.30" y="316.30" font-size="4.6" text-anchor="start" textLength="11.60" lengthAdjust="spacingAndGlyphs">0.084</text>
<text x="245.10" y="306.10" font-size="8.7" text-anchor="middle" font-weight="bold" transform="rotate(90 245.10 306.10)" stroke="#000" stroke-width="0.3" stroke-linejoin="round" letter-spacing="0.5">**</text>
<text x="257.90" y="302.70" font-size="8.7" text-anchor="middle" font-weight="bold" transform="rotate(90 257.90 302.70)" stroke="#000" stroke-width="0.3" stroke-linejoin="round" letter-spacing="0.5">***</text>
</g>
<g id="panelD">
<text x="274.10" y="210.80" font-size="12" text-anchor="start" font-weight="bold">D</text>
<text x="405.00" y="207.10" font-size="8.8" text-anchor="middle" textLength="131.00" lengthAdjust="spacingAndGlyphs">Survival MC38-challenged mice</text>
<line x1="303.50" y1="223.50" x2="303.50" y2="365.80" stroke="#000" stroke-width="1"/>
<line x1="303.00" y1="365.30" x2="518.00" y2="365.30" stroke="#000" stroke-width="1"/>
<line x1="300.30" y1="365.20" x2="303.50" y2="365.20" stroke="#000" stroke-width="0.9"/>
<text x="299.10" y="366.70" font-size="4.4" text-anchor="end" font-weight="bold" stroke="#000" stroke-width="0.12">0</text>
<line x1="300.30" y1="338.16" x2="303.50" y2="338.16" stroke="#000" stroke-width="0.9"/>
<text x="299.10" y="339.66" font-size="4.4" text-anchor="end" font-weight="bold" textLength="5.50" lengthAdjust="spacingAndGlyphs" stroke="#000" stroke-width="0.12">20</text>
<line x1="300.30" y1="311.12" x2="303.50" y2="311.12" stroke="#000" stroke-width="0.9"/>
<text x="299.10" y="312.62" font-size="4.4" text-anchor="end" font-weight="bold" textLength="5.50" lengthAdjust="spacingAndGlyphs" stroke="#000" stroke-width="0.12">40</text>
<line x1="300.30" y1="284.08" x2="303.50" y2="284.08" stroke="#000" stroke-width="0.9"/>
<text x="299.10" y="285.58" font-size="4.4" text-anchor="end" font-weight="bold" textLength="5.50" lengthAdjust="spacingAndGlyphs" stroke="#000" stroke-width="0.12">60</text>
<line x1="300.30" y1="257.04" x2="303.50" y2="257.04" stroke="#000" stroke-width="0.9"/>
<text x="299.10" y="258.54" font-size="4.4" text-anchor="end" font-weight="bold" textLength="5.50" lengthAdjust="spacingAndGlyphs" stroke="#000" stroke-width="0.12">80</text>
<line x1="300.30" y1="230.00" x2="303.50" y2="230.00" stroke="#000" stroke-width="0.9"/>
<text x="299.10" y="231.50" font-size="4.4" text-anchor="end" font-weight="bold" textLength="8.40" lengthAdjust="spacingAndGlyphs" stroke="#000" stroke-width="0.12">100</text>
<line x1="302.00" y1="351.68" x2="303.50" y2="351.68" stroke="#000" stroke-width="0.7"/>
<line x1="302.00" y1="324.64" x2="303.50" y2="324.64" stroke="#000" stroke-width="0.7"/>
<line x1="302.00" y1="297.60" x2="303.50" y2="297.60" stroke="#000" stroke-width="0.7"/>
<line x1="302.00" y1="270.56" x2="303.50" y2="270.56" stroke="#000" stroke-width="0.7"/>
<line x1="302.00" y1="243.52" x2="303.50" y2="243.52" stroke="#000" stroke-width="0.7"/>
<line x1="303.50" y1="365.30" x2="303.50" y2="367.90" stroke="#000" stroke-width="0.9"/>
<text x="303.50" y="374.30" font-size="4.2" text-anchor="middle" font-weight="bold" stroke="#000" stroke-width="0.12">0</text>
<line x1="309.60" y1="365.30" x2="309.60" y2="366.70" stroke="#000" stroke-width="0.6"/>
<line x1="315.70" y1="365.30" x2="315.70" y2="366.70" stroke="#000" stroke-width="0.6"/>
<line x1="321.80" y1="365.30" x2="321.80" y2="366.70" stroke="#000" stroke-width="0.6"/>
<line x1="327.90" y1="365.30" x2="327.90" y2="366.70" stroke="#000" stroke-width="0.6"/>
<line x1="334.00" y1="365.30" x2="334.00" y2="367.90" stroke="#000" stroke-width="0.9"/>
<text x="334.00" y="374.30" font-size="4.2" text-anchor="middle" font-weight="bold" stroke="#000" stroke-width="0.12">5</text>
<line x1="340.10" y1="365.30" x2="340.10" y2="366.70" stroke="#000" stroke-width="0.6"/>
<line x1="346.20" y1="365.30" x2="346.20" y2="366.70" stroke="#000" stroke-width="0.6"/>
<line x1="352.30" y1="365.30" x2="352.30" y2="366.70" stroke="#000" stroke-width="0.6"/>
<line x1="358.40" y1="365.30" x2="358.40" y2="366.70" stroke="#000" stroke-width="0.6"/>
<line x1="364.50" y1="365.30" x2="364.50" y2="367.90" stroke="#000" stroke-width="0.9"/>
<text x="364.50" y="374.30" font-size="4.2" text-anchor="middle" font-weight="bold" stroke="#000" stroke-width="0.12">10</text>
<line x1="370.60" y1="365.30" x2="370.60" y2="366.70" stroke="#000" stroke-width="0.6"/>
<line x1="376.70" y1="365.30" x2="376.70" y2="366.70" stroke="#000" stroke-width="0.6"/>
<line x1="382.80" y1="365.30" x2="382.80" y2="366.70" stroke="#000" stroke-width="0.6"/>
<line x1="388.90" y1="365.30" x2="388.90" y2="366.70" stroke="#000" stroke-width="0.6"/>
<line x1="395.00" y1="365.30" x2="395.00" y2="367.90" stroke="#000" stroke-width="0.9"/>
<text x="395.00" y="374.30" font-size="4.2" text-anchor="middle" font-weight="bold" stroke="#000" stroke-width="0.12">15</text>
<line x1="401.10" y1="365.30" x2="401.10" y2="366.70" stroke="#000" stroke-width="0.6"/>
<line x1="407.20" y1="365.30" x2="407.20" y2="366.70" stroke="#000" stroke-width="0.6"/>
<line x1="413.30" y1="365.30" x2="413.30" y2="366.70" stroke="#000" stroke-width="0.6"/>
<line x1="419.40" y1="365.30" x2="419.40" y2="366.70" stroke="#000" stroke-width="0.6"/>
<line x1="425.50" y1="365.30" x2="425.50" y2="367.90" stroke="#000" stroke-width="0.9"/>
<text x="425.50" y="374.30" font-size="4.2" text-anchor="middle" font-weight="bold" stroke="#000" stroke-width="0.12">20</text>
<line x1="431.60" y1="365.30" x2="431.60" y2="366.70" stroke="#000" stroke-width="0.6"/>
<line x1="437.70" y1="365.30" x2="437.70" y2="366.70" stroke="#000" stroke-width="0.6"/>
<line x1="443.80" y1="365.30" x2="443.80" y2="366.70" stroke="#000" stroke-width="0.6"/>
<line x1="449.90" y1="365.30" x2="449.90" y2="366.70" stroke="#000" stroke-width="0.6"/>
<line x1="456.00" y1="365.30" x2="456.00" y2="367.90" stroke="#000" stroke-width="0.9"/>
<text x="456.00" y="374.30" font-size="4.2" text-anchor="middle" font-weight="bold" stroke="#000" stroke-width="0.12">25</text>
<line x1="462.10" y1="365.30" x2="462.10" y2="366.70" stroke="#000" stroke-width="0.6"/>
<line x1="468.20" y1="365.30" x2="468.20" y2="366.70" stroke="#000" stroke-width="0.6"/>
<line x1="474.30" y1="365.30" x2="474.30" y2="366.70" stroke="#000" stroke-width="0.6"/>
<line x1="480.40" y1="365.30" x2="480.40" y2="366.70" stroke="#000" stroke-width="0.6"/>
<line x1="486.50" y1="365.30" x2="486.50" y2="367.90" stroke="#000" stroke-width="0.9"/>
<text x="486.50" y="374.30" font-size="4.2" text-anchor="middle" font-weight="bold" stroke="#000" stroke-width="0.12">30</text>
<line x1="492.60" y1="365.30" x2="492.60" y2="366.70" stroke="#000" stroke-width="0.6"/>
<line x1="498.70" y1="365.30" x2="498.70" y2="366.70" stroke="#000" stroke-width="0.6"/>
<line x1="504.80" y1="365.30" x2="504.80" y2="366.70" stroke="#000" stroke-width="0.6"/>
<line x1="510.90" y1="365.30" x2="510.90" y2="366.70" stroke="#000" stroke-width="0.6"/>
<line x1="517.00" y1="365.30" x2="517.00" y2="367.90" stroke="#000" stroke-width="0.9"/>
<text x="517.00" y="374.30" font-size="4.2" text-anchor="middle" font-weight="bold" stroke="#000" stroke-width="0.12">35</text>
<text x="286.30" y="296.00" font-size="7.4" text-anchor="middle" transform="rotate(-90 286.30 296.00)" textLength="37.5" lengthAdjust="spacingAndGlyphs">% Survival</text>
<text x="409.20" y="384.80" font-size="7.6" text-anchor="middle" textLength="48.50" lengthAdjust="spacingAndGlyphs">Days on study</text>
<polyline points="303.50,230.00 376.70,230.00 376.70,297.60 388.90,297.60 388.90,305.71 395.00,305.71 395.00,339.92 401.10,339.92 401.10,348.30 419.40,348.30 419.40,365.20" fill="none" stroke="#000000" stroke-width="1.6" stroke-linejoin="round" stroke-linejoin="miter"/>
<rect x="375.00" y="295.90" width="3.40" height="3.40" fill="#000000"/>
<rect x="387.20" y="304.01" width="3.40" height="3.40" fill="#000000"/>
<rect x="393.30" y="338.22" width="3.40" height="3.40" fill="#000000"/>
<rect x="399.40" y="346.60" width="3.40" height="3.40" fill="#000000"/>
<rect x="417.70" y="363.50" width="3.40" height="3.40" fill="#000000"/>
<polyline points="303.50,230.00 376.70,230.00 376.70,246.22 388.90,246.22 388.90,289.49 401.10,289.49 401.10,334.10 407.20,334.10 407.20,349.65 413.30,349.65 413.30,365.20" fill="none" stroke="#f59a1e" stroke-width="1.6" stroke-linejoin="round" stroke-linejoin="miter"/>
<circle cx="376.70" cy="246.22" r="1.7" fill="#f59a1e"/>
<circle cx="388.90" cy="289.49" r="1.7" fill="#f59a1e"/>
<circle cx="401.10" cy="334.10" r="1.7" fill="#f59a1e"/>
<circle cx="407.20" cy="349.65" r="1.7" fill="#f59a1e"/>
<circle cx="413.30" cy="365.20" r="1.7" fill="#f59a1e"/>
<polyline points="303.50,230.00 376.70,230.00 376.70,244.87 388.90,244.87 388.90,255.69 395.00,255.69 395.00,305.71 419.40,305.71 419.40,348.30 468.20,348.30 468.20,356.82 510.90,356.82 510.90,356.82" fill="none" stroke="#24c524" stroke-width="1.6" stroke-linejoin="round" stroke-linejoin="miter"/>
<polygon points="376.70,242.83 374.83,246.40 378.57,246.40" fill="#24c524"/>
<polygon points="388.90,253.65 387.03,257.22 390.77,257.22" fill="#24c524"/>
<polygon points="395.00,303.67 393.13,307.24 396.87,307.24" fill="#24c524"/>
<polygon points="419.40,346.26 417.53,349.83 421.27,349.83" fill="#24c524"/>
<polygon points="468.20,354.78 466.33,358.35 470.07,358.35" fill="#24c524"/>
<polygon points="510.90,354.78 509.03,358.35 512.77,358.35" fill="#24c524"/>
<polyline points="303.50,230.00 376.70,230.00 376.70,293.54 388.90,293.54 388.90,304.36 395.00,304.36 395.00,329.37 419.40,329.37 419.40,365.20" fill="none" stroke="#1212e0" stroke-width="1.6" stroke-linejoin="round" stroke-linejoin="miter"/>
<circle cx="376.70" cy="293.54" r="1.7" fill="#1212e0"/>
<circle cx="388.90" cy="304.36" r="1.7" fill="#1212e0"/>
<circle cx="395.00" cy="329.37" r="1.7" fill="#1212e0"/>
<circle cx="419.40" cy="365.20" r="1.7" fill="#1212e0"/>
<polyline points="303.50,230.00 388.90,230.00 388.90,258.39 395.00,258.39 395.00,278.27 401.10,278.27 401.10,297.60 419.40,297.60 419.40,326.53 425.50,326.53 425.50,336.27 437.70,336.27 437.70,345.87 462.10,345.87 462.10,355.60 510.90,355.60 510.90,365.20" fill="none" stroke="#e6141e" stroke-width="1.6" stroke-linejoin="round" stroke-linejoin="miter"/>
<circle cx="388.90" cy="258.39" r="1.7" fill="#e6141e"/>
<circle cx="395.00" cy="278.27" r="1.7" fill="#e6141e"/>
<circle cx="401.10" cy="297.60" r="1.7" fill="#e6141e"/>
<circle cx="419.40" cy="326.53" r="1.7" fill="#e6141e"/>
<circle cx="425.50" cy="336.27" r="1.7" fill="#e6141e"/>
<circle cx="437.70" cy="345.87" r="1.7" fill="#e6141e"/>
<circle cx="462.10" cy="355.60" r="1.7" fill="#e6141e"/>
<circle cx="510.90" cy="365.20" r="1.7" fill="#e6141e"/>
<text x="312.80" y="342.00" font-size="7.2" text-anchor="start" textLength="28.50" lengthAdjust="spacingAndGlyphs">Afatinib</text>
<line x1="347.20" y1="334.00" x2="347.20" y2="343.00" stroke="#000" stroke-width="1.2"/>
<polygon points="344.60,341.10 347.20,341.80 349.80,341.10 347.20,345.40" fill="#000"/>
<line x1="354.20" y1="334.00" x2="354.20" y2="343.00" stroke="#000" stroke-width="1.2"/>
<polygon points="351.60,341.10 354.20,341.80 356.80,341.10 354.20,345.40" fill="#000"/>
<line x1="361.00" y1="334.00" x2="361.00" y2="343.00" stroke="#000" stroke-width="1.2"/>
<polygon points="358.40,341.10 361.00,341.80 363.60,341.10 361.00,345.40" fill="#000"/>
<line x1="367.80" y1="334.00" x2="367.80" y2="343.00" stroke="#000" stroke-width="1.2"/>
<polygon points="365.20,341.10 367.80,341.80 370.40,341.10 367.80,345.40" fill="#000"/>
<line x1="374.60" y1="334.00" x2="374.60" y2="343.00" stroke="#000" stroke-width="1.2"/>
<polygon points="372.00,341.10 374.60,341.80 377.20,341.10 374.60,345.40" fill="#000"/>
<text x="312.80" y="361.20" font-size="7.2" text-anchor="start" textLength="20.70" lengthAdjust="spacingAndGlyphs">aPD-1</text>
<line x1="340.40" y1="352.80" x2="340.40" y2="361.70" stroke="#000" stroke-width="1.2"/>
<polygon points="337.80,359.80 340.40,360.50 343.00,359.80 340.40,364.10" fill="#000"/>
<line x1="360.80" y1="352.80" x2="360.80" y2="361.70" stroke="#000" stroke-width="1.2"/>
<polygon points="358.20,359.80 360.80,360.50 363.40,359.80 360.80,364.10" fill="#000"/>
<line x1="389.30" y1="352.80" x2="389.30" y2="361.70" stroke="#000" stroke-width="1.2"/>
<polygon points="386.70,359.80 389.30,360.50 391.90,359.80 389.30,364.10" fill="#000"/>
<text x="411.20" y="326.20" font-size="6.8" text-anchor="middle" textLength="10.60" lengthAdjust="spacingAndGlyphs">n.s.</text>
<text x="470.20" y="349.80" font-size="8.7" text-anchor="middle" font-weight="bold" stroke="#000" stroke-width="0.3" stroke-linejoin="round" letter-spacing="0.5">*</text>
<text x="506.30" y="356.50" font-size="8.7" text-anchor="middle" font-weight="bold" stroke="#000" stroke-width="0.3" stroke-linejoin="round" letter-spacing="0.5">**</text>
</g>
<g id="panelF">
<text x="273.40" y="403.50" font-size="12" text-anchor="start" font-weight="bold">F</text>
<text x="407.00" y="427.80" font-size="8.6" text-anchor="middle" textLength="182.00" lengthAdjust="spacingAndGlyphs">SCCHN patient response to afatinib + aPD-1</text>
<line x1="296.00" y1="440.20" x2="296.00" y2="553.00" stroke="#000" stroke-width="1.1"/>
<line x1="293.00" y1="552.50" x2="296.00" y2="552.50" stroke="#000" stroke-width="1"/>
<text x="290.90" y="554.40" font-size="5.3" text-anchor="end" font-weight="bold" textLength="13.40" lengthAdjust="spacingAndGlyphs">-100</text>
<line x1="293.00" y1="543.90" x2="296.00" y2="543.90" stroke="#000" stroke-width="1"/>
<text x="290.90" y="545.80" font-size="5.3" text-anchor="end" font-weight="bold" textLength="9.60" lengthAdjust="spacingAndGlyphs">-80</text>
<line x1="293.00" y1="535.30" x2="296.00" y2="535.30" stroke="#000" stroke-width="1"/>
<text x="290.90" y="537.20" font-size="5.3" text-anchor="end" font-weight="bold" textLength="9.60" lengthAdjust="spacingAndGlyphs">-60</text>
<line x1="293.00" y1="526.70" x2="296.00" y2="526.70" stroke="#000" stroke-width="1"/>
<text x="290.90" y="528.60" font-size="5.3" text-anchor="end" font-weight="bold" textLength="9.60" lengthAdjust="spacingAndGlyphs">-40</text>
<line x1="293.00" y1="518.10" x2="296.00" y2="518.10" stroke="#000" stroke-width="1"/>
<text x="290.90" y="520.00" font-size="5.3" text-anchor="end" font-weight="bold" textLength="9.60" lengthAdjust="spacingAndGlyphs">-20</text>
<line x1="293.00" y1="509.50" x2="296.00" y2="509.50" stroke="#000" stroke-width="1"/>
<text x="290.90" y="511.40" font-size="5.3" text-anchor="end" font-weight="bold">0</text>
<line x1="293.00" y1="500.90" x2="296.00" y2="500.90" stroke="#000" stroke-width="1"/>
<text x="290.90" y="502.80" font-size="5.3" text-anchor="end" font-weight="bold" textLength="7.30" lengthAdjust="spacingAndGlyphs">20</text>
<line x1="293.00" y1="492.30" x2="296.00" y2="492.30" stroke="#000" stroke-width="1"/>
<text x="290.90" y="494.20" font-size="5.3" text-anchor="end" font-weight="bold" textLength="7.30" lengthAdjust="spacingAndGlyphs">40</text>
<line x1="293.00" y1="483.70" x2="296.00" y2="483.70" stroke="#000" stroke-width="1"/>
<text x="290.90" y="485.60" font-size="5.3" text-anchor="end" font-weight="bold" textLength="7.30" lengthAdjust="spacingAndGlyphs">60</text>
<line x1="293.00" y1="475.10" x2="296.00" y2="475.10" stroke="#000" stroke-width="1"/>
<text x="290.90" y="477.00" font-size="5.3" text-anchor="end" font-weight="bold" textLength="7.30" lengthAdjust="spacingAndGlyphs">80</text>
<line x1="293.00" y1="466.50" x2="296.00" y2="466.50" stroke="#000" stroke-width="1"/>
<text x="290.90" y="468.40" font-size="5.3" text-anchor="end" font-weight="bold" textLength="11.00" lengthAdjust="spacingAndGlyphs">100</text>
<line x1="293.00" y1="457.90" x2="296.00" y2="457.90" stroke="#000" stroke-width="1"/>
<text x="290.90" y="459.80" font-size="5.3" text-anchor="end" font-weight="bold" textLength="11.00" lengthAdjust="spacingAndGlyphs">120</text>
<line x1="293.00" y1="449.30" x2="296.00" y2="449.30" stroke="#000" stroke-width="1"/>
<text x="290.90" y="451.20" font-size="5.3" text-anchor="end" font-weight="bold" textLength="11.00" lengthAdjust="spacingAndGlyphs">140</text>
<line x1="293.00" y1="440.70" x2="296.00" y2="440.70" stroke="#000" stroke-width="1"/>
<text x="290.90" y="442.60" font-size="5.3" text-anchor="end" font-weight="bold" textLength="11.00" lengthAdjust="spacingAndGlyphs">160</text>
<rect x="298.25" y="448.87" width="3.50" height="60.63" fill="#6e6e6e"/>
<rect x="303.75" y="476.39" width="3.50" height="33.11" fill="#6e6e6e"/>
<rect x="309.25" y="479.40" width="3.50" height="30.10" fill="#6e6e6e"/>
<rect x="314.75" y="487.14" width="3.50" height="22.36" fill="#6e6e6e"/>
<rect x="320.25" y="498.75" width="3.50" height="10.75" fill="#6e6e6e"/>
<rect x="325.75" y="505.63" width="3.50" height="3.87" fill="#6e6e6e"/>
<rect x="331.25" y="506.49" width="3.50" height="3.01" fill="#6e6e6e"/>
<rect x="342.25" y="509.50" width="3.50" height="2.58" fill="#6e6e6e"/>
<rect x="347.75" y="509.50" width="3.50" height="3.44" fill="#6e6e6e"/>
<rect x="353.25" y="509.50" width="3.50" height="5.16" fill="#6e6e6e"/>
<rect x="358.75" y="509.50" width="3.50" height="6.88" fill="#6e6e6e"/>
<rect x="364.25" y="509.50" width="3.50" height="8.60" fill="#6e6e6e"/>
<rect x="369.75" y="509.50" width="3.50" height="9.89" fill="#6e6e6e"/>
<rect x="375.25" y="509.50" width="3.50" height="12.04" fill="#6e6e6e"/>
<rect x="380.75" y="509.50" width="3.50" height="14.19" fill="#6e6e6e"/>
<rect x="386.25" y="509.50" width="3.50" height="15.05" fill="#6e6e6e"/>
<rect x="391.75" y="509.50" width="3.50" height="15.48" fill="#6e6e6e"/>
<rect x="397.25" y="509.50" width="3.50" height="15.91" fill="#6e6e6e"/>
<rect x="402.75" y="509.50" width="3.50" height="17.63" fill="#6e6e6e"/>
<rect x="408.25" y="509.50" width="3.50" height="18.49" fill="#6e6e6e"/>
<rect x="413.75" y="509.50" width="3.50" height="18.92" fill="#6e6e6e"/>
<rect x="419.25" y="509.50" width="3.50" height="19.35" fill="#6e6e6e"/>
<rect x="424.75" y="509.50" width="3.50" height="20.00" fill="#6e6e6e"/>
<rect x="430.25" y="509.50" width="3.50" height="25.37" fill="#6e6e6e"/>
<rect x="435.75" y="509.50" width="3.50" height="27.09" fill="#6e6e6e"/>
<rect x="441.25" y="509.50" width="3.50" height="27.95" fill="#6e6e6e"/>
<rect x="446.75" y="509.50" width="3.50" height="28.81" fill="#6e6e6e"/>
<rect x="452.25" y="509.50" width="3.50" height="29.67" fill="#6e6e6e"/>
<rect x="457.75" y="509.50" width="3.50" height="30.53" fill="#6e6e6e"/>
<rect x="463.25" y="509.50" width="3.50" height="31.39" fill="#6e6e6e"/>
<rect x="468.75" y="509.50" width="3.50" height="31.82" fill="#6e6e6e"/>
<rect x="474.25" y="509.50" width="3.50" height="32.47" fill="#6e6e6e"/>
<rect x="479.75" y="509.50" width="3.50" height="33.54" fill="#6e6e6e"/>
<rect x="485.25" y="509.50" width="3.50" height="39.13" fill="#6e6e6e"/>
<rect x="490.75" y="509.50" width="3.50" height="42.14" fill="#6e6e6e"/>
<rect x="496.25" y="509.50" width="3.50" height="42.14" fill="#6e6e6e"/>
<rect x="501.75" y="509.50" width="3.50" height="42.14" fill="#6e6e6e"/>
<rect x="507.25" y="509.50" width="3.50" height="42.14" fill="#6e6e6e"/>
<rect x="512.75" y="509.50" width="3.50" height="42.14" fill="#6e6e6e"/>
<line x1="296.00" y1="509.50" x2="520.00" y2="509.50" stroke="#000" stroke-width="1.1"/>
<line x1="296.00" y1="522.40" x2="520.00" y2="522.40" stroke="#d02020" stroke-width="1.1" stroke-dasharray="2.6 1.7"/>
<text x="273.40" y="497.60" font-size="7.4" text-anchor="middle" transform="rotate(-90 273.40 497.60)" textLength="86" lengthAdjust="spacingAndGlyphs">% Change from baseline</text>
<text x="301.90" y="570.00" font-size="7.2" text-anchor="start" textLength="208.40" lengthAdjust="spacingAndGlyphs">RECIST PR 58.5% (95% CI: 42.8–74.3%); SD 22.0%; PD 19.5%</text>
<text x="301.90" y="580.40" font-size="7.2" text-anchor="start" textLength="142.40" lengthAdjust="spacingAndGlyphs">PFS 7.2 months (95% CI: 5.0–9.3 months)</text>
</g>
<g id="panelE">
<text x="1.00" y="403.70" font-size="12" text-anchor="start" font-weight="bold">E</text>
<text x="78.50" y="403.40" font-size="7.2" text-anchor="middle" textLength="22.10" lengthAdjust="spacingAndGlyphs">Before</text>
<text x="154.70" y="403.30" font-size="7.2" text-anchor="middle" textLength="15.50" lengthAdjust="spacingAndGlyphs">After</text>
<text x="14.30" y="435.00" font-size="7.2" text-anchor="start" textLength="20.00" lengthAdjust="spacingAndGlyphs">Pt. 20</text>
<text x="18.00" y="486.30" font-size="7.2" text-anchor="start" textLength="15.30" lengthAdjust="spacingAndGlyphs">Pt. 2</text>
<text x="18.00" y="537.00" font-size="7.2" text-anchor="start" textLength="15.30" lengthAdjust="spacingAndGlyphs">Pt. 3</text>
<text x="18.00" y="588.00" font-size="7.2" text-anchor="start" textLength="15.30" lengthAdjust="spacingAndGlyphs">Pt. 7</text>
<defs><filter id="bl" x="-5%" y="-5%" width="110%" height="110%"><feGaussianBlur stdDeviation="0.5"/></filter><clipPath id="cL"><rect x="41.3" y="406.3" width="73.6" height="206.7"/></clipPath><clipPath id="cR"><rect x="118.3" y="406.3" width="73.1" height="206.7"/></clipPath></defs>
<rect x="41.3" y="406.3" width="73.6" height="206.7" fill="#000"/>
<rect x="118.3" y="406.3" width="73.1" height="206.7" fill="#000"/>
<clipPath id="cg1"><ellipse cx="80.80" cy="432.50" rx="25.20" ry="19.80"/></clipPath>
<g clip-path="url(#cL)"><g filter="url(#bl)">
<path d="M45.25,454.10 Q80.50,458.30 115.75,454.10" fill="none" stroke="#6e6e6e" stroke-width="0.7"/>
<ellipse cx="81.25" cy="432.95" rx="34.80" ry="22.50" fill="#1d1d1d" stroke="#5c5c5c" stroke-width="0.5"/>
<ellipse cx="54.70" cy="440.00" rx="4.50" ry="7.80" fill="#868686"/>
<ellipse cx="109.30" cy="432.50" rx="6.60" ry="10.20" fill="#8a8a8a"/>
<ellipse cx="109.30" cy="432.50" rx="3.60" ry="6.60" fill="#3a3a3a"/>
<ellipse cx="104.20" cy="436.70" rx="3.00" ry="7.20" fill="#9c9c9c"/>
<ellipse cx="80.80" cy="432.50" rx="25.20" ry="19.80" fill="#020202" stroke="#8e8e8e" stroke-width="1.8"/>
<ellipse cx="80.80" cy="432.50" rx="24.90" ry="19.50" fill="none" stroke="#e4e4e4" stroke-width="1.2" stroke-dasharray="2.2 5.2" opacity="0.9"/>
<g clip-path="url(#cg1)">
<ellipse cx="83.50" cy="429.50" rx="8.70" ry="16.80" fill="#3a3a3a"/>
<ellipse cx="91.75" cy="442.25" rx="10.50" ry="9.30" fill="#7d7577"/>
<ellipse cx="103.75" cy="443.00" rx="6.00" ry="9.00" fill="#8a8a8a"/>
<ellipse cx="80.50" cy="450.80" rx="18.00" ry="6.30" fill="#838383"/>
</g>
<ellipse cx="79.75" cy="422.75" rx="5.40" ry="5.40" fill="#e6e6e6"/>
<ellipse cx="88.00" cy="425.00" rx="4.35" ry="4.05" fill="#dadada"/>
<ellipse cx="91.90" cy="429.05" rx="3.45" ry="3.30" fill="#a9a9a9"/>
<ellipse cx="75.40" cy="429.80" rx="2.70" ry="2.85" fill="#d4d4d4"/>
<ellipse cx="80.50" cy="414.20" rx="3.90" ry="1.20" fill="#d8d8d8"/>
<ellipse cx="85.75" cy="438.80" rx="1.50" ry="4.50" fill="#b2646c"/>
<ellipse cx="80.20" cy="443.30" rx="3.30" ry="3.30" fill="#f4f4f4"/>
<ellipse cx="80.20" cy="447.92" rx="1.65" ry="2.97" fill="#cdcdcd"/>
<ellipse cx="80.20" cy="443.79" rx="0.99" ry="0.99" fill="#3a3a3a"/>
</g>
<ellipse cx="91.00" cy="442.25" rx="7.20" ry="7.20" fill="none" stroke="#cc2030" stroke-width="0.85" stroke-dasharray="1.3 0.6" opacity="0.95"/>
</g>
<clipPath id="cg2"><ellipse cx="155.75" cy="432.05" rx="25.20" ry="19.80"/></clipPath>
<g clip-path="url(#cR)"><g filter="url(#bl)">
<path d="M120.50,454.10 Q155.75,458.30 191.00,454.10" fill="none" stroke="#6e6e6e" stroke-width="0.7"/>
<ellipse cx="155.75" cy="433.25" rx="34.20" ry="22.50" fill="#1d1d1d" stroke="#5c5c5c" stroke-width="0.5"/>
<ellipse cx="129.50" cy="440.00" rx="4.20" ry="7.50" fill="#868686"/>
<ellipse cx="182.30" cy="437.75" rx="3.90" ry="7.50" fill="#8a8a8a"/>
<ellipse cx="155.75" cy="432.05" rx="25.20" ry="19.80" fill="#020202" stroke="#8e8e8e" stroke-width="1.8"/>
<ellipse cx="155.75" cy="432.05" rx="24.90" ry="19.50" fill="none" stroke="#e4e4e4" stroke-width="1.2" stroke-dasharray="2.2 5.2" opacity="0.9"/>
<g clip-path="url(#cg2)">
<ellipse cx="157.70" cy="428.75" rx="8.10" ry="16.20" fill="#3a3a3a"/>
<ellipse cx="155.30" cy="450.80" rx="17.25" ry="6.30" fill="#838383"/>
</g>
<ellipse cx="154.25" cy="422.75" rx="5.40" ry="5.40" fill="#e2e2e2"/>
<ellipse cx="161.30" cy="425.30" rx="4.65" ry="4.35" fill="#d8d8d8"/>
<ellipse cx="152.00" cy="429.20" rx="2.85" ry="2.85" fill="#cccccc"/>
<ellipse cx="156.20" cy="413.90" rx="3.90" ry="1.20" fill="#d8d8d8"/>
<ellipse cx="163.25" cy="438.80" rx="3.30" ry="3.00" fill="#9c6a72"/>
<ellipse cx="155.00" cy="443.30" rx="3.30" ry="3.30" fill="#f4f4f4"/>
<ellipse cx="155.00" cy="447.92" rx="1.65" ry="2.97" fill="#cdcdcd"/>
<ellipse cx="155.00" cy="443.79" rx="0.99" ry="0.99" fill="#3a3a3a"/>
</g>
<ellipse cx="166.25" cy="442.25" rx="6.75" ry="6.75" fill="none" stroke="#cc2030" stroke-width="0.85" stroke-dasharray="1.3 0.6" opacity="0.95"/>
</g>
<clipPath id="cg3"><ellipse cx="79.30" cy="484.20" rx="23.10" ry="15.90"/></clipPath>
<g clip-path="url(#cL)"><g filter="url(#bl)">
<path d="M49.00,507.60 Q79.00,510.00 109.00,507.60" fill="none" stroke="#6e6e6e" stroke-width="0.7"/>
<ellipse cx="79.00" cy="493.50" rx="35.70" ry="12.00" fill="#8a8a8a"/>
<ellipse cx="79.00" cy="481.80" rx="25.80" ry="19.50" fill="#8a8a8a"/>
<ellipse cx="50.50" cy="495.00" rx="6.00" ry="6.00" fill="#a4a4a4"/>
<ellipse cx="107.50" cy="495.00" rx="6.00" ry="6.00" fill="#a4a4a4"/>
<ellipse cx="79.30" cy="484.20" rx="23.10" ry="15.90" fill="#020202" stroke="#b0b0b0" stroke-width="1.2"/>
<g clip-path="url(#cg3)">
<ellipse cx="79.30" cy="481.50" rx="4.95" ry="19.50" fill="#6e6265"/>
<ellipse cx="78.40" cy="482.70" rx="6.00" ry="6.30" fill="#94787e"/>
<ellipse cx="79.30" cy="501.75" rx="12.00" ry="6.00" fill="#8c8c8c"/>
</g>
<ellipse cx="78.25" cy="473.25" rx="4.35" ry="4.35" fill="#f2e8ea"/>
<ellipse cx="85.00" cy="491.25" rx="2.40" ry="2.40" fill="#f4f4f4"/>
<ellipse cx="79.00" cy="465.60" rx="4.50" ry="1.35" fill="#dcdcdc"/>
<ellipse cx="79.30" cy="496.20" rx="3.00" ry="3.00" fill="#f4f4f4"/>
<ellipse cx="79.30" cy="500.40" rx="1.50" ry="2.70" fill="#cdcdcd"/>
<ellipse cx="79.30" cy="496.65" rx="0.90" ry="0.90" fill="#3a3a3a"/>
</g>
<ellipse cx="78.25" cy="482.25" rx="7.50" ry="7.50" fill="none" stroke="#cc2030" stroke-width="0.85" stroke-dasharray="1.3 0.6" opacity="0.95"/>
</g>
<clipPath id="cg4"><ellipse cx="156.20" cy="487.20" rx="23.40" ry="15.90"/></clipPath>
<g clip-path="url(#cR)"><g filter="url(#bl)">
<path d="M125.75,510.00 Q155.75,511.80 185.75,510.00" fill="none" stroke="#6e6e6e" stroke-width="0.7"/>
<ellipse cx="155.75" cy="495.30" rx="35.70" ry="12.00" fill="#8c8c8c"/>
<ellipse cx="155.75" cy="484.80" rx="26.10" ry="19.50" fill="#8c8c8c"/>
<ellipse cx="127.25" cy="496.80" rx="6.00" ry="6.00" fill="#a6a6a6"/>
<ellipse cx="184.25" cy="496.80" rx="6.00" ry="6.00" fill="#a6a6a6"/>
<ellipse cx="156.20" cy="487.20" rx="23.40" ry="15.90" fill="#020202" stroke="#b0b0b0" stroke-width="1.2"/>
<g clip-path="url(#cg4)">
<ellipse cx="155.75" cy="484.50" rx="4.95" ry="19.50" fill="#5a5052"/>
<ellipse cx="155.30" cy="486.75" rx="6.90" ry="6.90" fill="#3c2e32"/>
<ellipse cx="155.75" cy="504.30" rx="12.00" ry="6.00" fill="#8c8c8c"/>
</g>
<ellipse cx="154.25" cy="475.50" rx="4.35" ry="4.35" fill="#f4f4f4"/>
<ellipse cx="161.00" cy="492.00" rx="2.40" ry="2.40" fill="#f4f4f4"/>
<ellipse cx="163.25" cy="484.50" rx="1.95" ry="1.95" fill="#ededed"/>
<ellipse cx="155.30" cy="467.70" rx="4.50" ry="1.35" fill="#dcdcdc"/>
<ellipse cx="155.30" cy="497.70" rx="3.00" ry="3.00" fill="#f4f4f4"/>
<ellipse cx="155.30" cy="501.90" rx="1.50" ry="2.70" fill="#cdcdcd"/>
<ellipse cx="155.30" cy="498.15" rx="0.90" ry="0.90" fill="#3a3a3a"/>
</g>
<ellipse cx="152.75" cy="486.75" rx="6.00" ry="6.00" fill="none" stroke="#cc2030" stroke-width="0.85" stroke-dasharray="1.3 0.6" opacity="0.95"/>
</g>
<clipPath id="cg5"><rect x="47.50" y="516.80" width="63.60" height="34.20" rx="21.62" ry="16.24"/></clipPath>
<g clip-path="url(#cL)"><g filter="url(#bl)">
<path d="M44.05,557.60 Q79.30,560.60 114.55,557.60" fill="none" stroke="#6e6e6e" stroke-width="0.7"/>
<rect x="42.25" y="513.80" width="74.10" height="43.80" rx="25.19" ry="20.80" fill="#7a7a7a"/>
<rect x="47.50" y="516.80" width="63.60" height="34.20" rx="21.62" ry="16.24" fill="#020202" stroke="#a6a6a6" stroke-width="1.6"/>
<rect x="47.80" y="517.10" width="63.00" height="33.60" rx="21.42" ry="15.96" fill="none" stroke="#e4e4e4" stroke-width="1.2" stroke-dasharray="2.2 5.2" opacity="0.9"/>
<g clip-path="url(#cg5)">
<ellipse cx="80.50" cy="533.75" rx="7.50" ry="19.50" fill="#474747"/>
<ellipse cx="72.70" cy="540.80" rx="6.30" ry="6.30" fill="#8e848c"/>
<ellipse cx="79.30" cy="551.90" rx="16.50" ry="6.75" fill="#8a8a8a"/>
</g>
<ellipse cx="76.75" cy="527.00" rx="4.35" ry="4.35" fill="#efefef"/>
<ellipse cx="84.40" cy="525.50" rx="4.35" ry="4.35" fill="#f1f1f1"/>
<ellipse cx="85.00" cy="542.00" rx="2.25" ry="2.25" fill="#f2f2f2"/>
<ellipse cx="91.00" cy="538.25" rx="1.35" ry="1.35" fill="#eeeeee"/>
<ellipse cx="79.30" cy="516.50" rx="4.50" ry="1.35" fill="#dedede"/>
<ellipse cx="79.30" cy="550.70" rx="3.15" ry="3.15" fill="#f4f4f4"/>
<ellipse cx="79.30" cy="555.11" rx="1.57" ry="2.83" fill="#cdcdcd"/>
<ellipse cx="79.30" cy="551.17" rx="0.94" ry="0.94" fill="#3a3a3a"/>
</g>
<ellipse cx="72.25" cy="540.50" rx="8.25" ry="8.25" fill="none" stroke="#cc2030" stroke-width="0.85" stroke-dasharray="1.3 0.6" opacity="0.95"/>
</g>
<clipPath id="cg6"><rect x="123.80" y="515.30" width="64.80" height="36.00" rx="22.03" ry="17.10"/></clipPath>
<g clip-path="url(#cR)"><g filter="url(#bl)">
<path d="M120.50,558.50 Q155.75,561.50 191.00,558.50" fill="none" stroke="#6e6e6e" stroke-width="0.7"/>
<rect x="118.10" y="512.15" width="75.30" height="45.30" rx="25.60" ry="21.52" fill="#7a7a7a"/>
<rect x="123.80" y="515.30" width="64.80" height="36.00" rx="22.03" ry="17.10" fill="#020202" stroke="#a6a6a6" stroke-width="1.6"/>
<rect x="124.10" y="515.60" width="64.20" height="35.40" rx="21.83" ry="16.81" fill="none" stroke="#e4e4e4" stroke-width="1.2" stroke-dasharray="2.2 5.2" opacity="0.9"/>
<g clip-path="url(#cg6)">
<ellipse cx="157.70" cy="533.00" rx="7.20" ry="19.50" fill="#474747"/>
<ellipse cx="155.75" cy="551.90" rx="17.25" ry="6.75" fill="#868686"/>
</g>
<ellipse cx="154.25" cy="527.00" rx="4.20" ry="4.20" fill="#f0f0f0"/>
<ellipse cx="161.30" cy="525.50" rx="4.20" ry="4.20" fill="#f0f0f0"/>
<ellipse cx="162.50" cy="542.00" rx="2.70" ry="2.70" fill="#f2f2f2"/>
<ellipse cx="167.30" cy="536.00" rx="3.30" ry="1.20" fill="#eaeaea"/>
<ellipse cx="149.75" cy="536.00" rx="3.30" ry="2.70" fill="#d9c4c8"/>
<ellipse cx="156.20" cy="515.00" rx="4.50" ry="1.35" fill="#dedede"/>
<ellipse cx="155.75" cy="551.00" rx="3.15" ry="3.15" fill="#f4f4f4"/>
<ellipse cx="155.75" cy="555.41" rx="1.57" ry="2.83" fill="#cdcdcd"/>
<ellipse cx="155.75" cy="551.47" rx="0.94" ry="0.94" fill="#3a3a3a"/>
</g>
<ellipse cx="146.75" cy="542.75" rx="7.50" ry="7.50" fill="none" stroke="#cc2030" stroke-width="0.85" stroke-dasharray="1.3 0.6" opacity="0.95"/>
</g>
<clipPath id="cg7"><rect x="48.70" y="568.70" width="63.60" height="33.60" rx="19.72" ry="15.46"/></clipPath>
<g clip-path="url(#cL)"><g filter="url(#bl)">
<rect x="42.10" y="565.25" width="73.80" height="42.30" rx="22.88" ry="19.46" fill="#8c8c8c"/>
<ellipse cx="46.30" cy="592.25" rx="4.20" ry="7.50" fill="#b0b0b0"/>
<ellipse cx="112.00" cy="592.25" rx="4.20" ry="7.50" fill="#b0b0b0"/>
<rect x="48.70" y="568.70" width="63.60" height="33.60" rx="19.72" ry="15.46" fill="#020202" stroke="#bcbcbc" stroke-width="1.2"/>
<g clip-path="url(#cg7)">
<ellipse cx="79.75" cy="581.75" rx="5.40" ry="19.50" fill="#5c5c5c"/>
<ellipse cx="77.50" cy="604.70" rx="18.00" ry="7.20" fill="#909090"/>
</g>
<ellipse cx="80.50" cy="575.30" rx="4.65" ry="5.40" fill="#cfcfcf"/>
<ellipse cx="76.00" cy="582.20" rx="4.50" ry="3.30" fill="#b88890"/>
<ellipse cx="77.20" cy="584.90" rx="2.25" ry="2.25" fill="#0a0a0a"/>
<ellipse cx="82.90" cy="590.90" rx="2.25" ry="2.25" fill="#f0f0f0"/>
<ellipse cx="81.25" cy="566.90" rx="4.50" ry="1.35" fill="#dedede"/>
<polygon points="76.75,591.62 70.12,601.37 83.38,601.37" fill="#eeeeee"/>
<ellipse cx="76.75" cy="596.88" rx="1.17" ry="1.17" fill="#3a3a3a"/>
</g>
<ellipse cx="76.75" cy="584.00" rx="5.25" ry="5.25" fill="none" stroke="#cc2030" stroke-width="0.85" stroke-dasharray="1.3 0.6" opacity="0.95"/>
</g>
<clipPath id="cg8"><rect x="125.75" y="572.75" width="61.50" height="30.60" rx="19.06" ry="14.08"/></clipPath>
<g clip-path="url(#cR)"><g filter="url(#bl)">
<path d="M125.75,611.30 Q155.75,613.10 185.75,611.30" fill="none" stroke="#6e6e6e" stroke-width="0.7"/>
<rect x="119.45" y="569.15" width="72.00" height="39.30" rx="22.32" ry="18.08" fill="#8c8c8c"/>
<ellipse cx="123.50" cy="594.50" rx="3.90" ry="6.75" fill="#b0b0b0"/>
<ellipse cx="187.70" cy="594.50" rx="3.90" ry="6.75" fill="#b0b0b0"/>
<rect x="125.75" y="572.75" width="61.50" height="30.60" rx="19.06" ry="14.08" fill="#020202" stroke="#bcbcbc" stroke-width="1.2"/>
<g clip-path="url(#cg8)">
<ellipse cx="156.50" cy="584.75" rx="5.10" ry="18.00" fill="#5c5c5c"/>
<ellipse cx="154.25" cy="605.90" rx="17.25" ry="6.30" fill="#909090"/>
</g>
<ellipse cx="157.40" cy="578.00" rx="4.35" ry="5.10" fill="#cbcbcb"/>
<ellipse cx="155.30" cy="587.00" rx="3.90" ry="4.50" fill="#a85a64"/>
<ellipse cx="155.00" cy="587.00" rx="1.80" ry="1.95" fill="#0a0a0a"/>
<ellipse cx="160.40" cy="593.00" rx="2.10" ry="2.10" fill="#efefef"/>
<ellipse cx="158.75" cy="570.50" rx="4.50" ry="1.20" fill="#dedede"/>
<polygon points="153.50,594.98 147.38,603.98 159.62,603.98" fill="#eeeeee"/>
<ellipse cx="153.50" cy="599.84" rx="1.08" ry="1.08" fill="#3a3a3a"/>
</g>
<ellipse cx="155.00" cy="586.25" rx="5.25" ry="5.25" fill="none" stroke="#cc2030" stroke-width="0.85" stroke-dasharray="1.3 0.6" opacity="0.95"/>
</g>
<text x="191" y="413.4" font-size="7.6" text-anchor="end" fill="#fff" textLength="24.8" lengthAdjust="spacingAndGlyphs">week 11</text>
<text x="191" y="465.4" font-size="7.6" text-anchor="end" fill="#fff" textLength="20.8" lengthAdjust="spacingAndGlyphs">week 4</text>
<text x="191" y="517.6" font-size="7.6" text-anchor="end" fill="#fff" textLength="24.8" lengthAdjust="spacingAndGlyphs">week 12</text>
<text x="191" y="569.2" font-size="7.6" text-anchor="end" fill="#fff" textLength="24.8" lengthAdjust="spacingAndGlyphs">week 13</text>
</g>
</svg>
</body></html>
